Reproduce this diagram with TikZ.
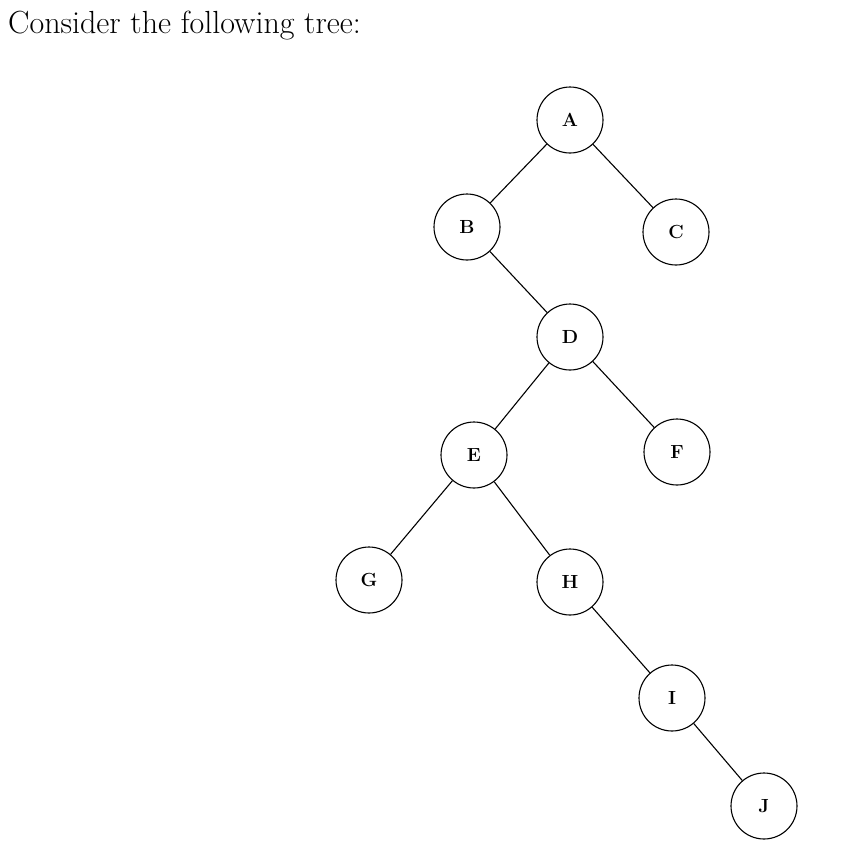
\documentclass[tikz,border=0pt]{standalone}
\begin{document}
\begin{tikzpicture}[x=1pt,y=-1pt,
  tn/.style={circle,draw,line width=1.1pt,minimum size=66pt,inner sep=0pt,font=\fontsize{19}{19}\selectfont\bfseries},
  ed/.style={line width=1.1pt}]
\useasboundingbox (0,0) rectangle (868,860);
\node[anchor=west,inner sep=0pt,font=\fontsize{32}{36}\selectfont] (t) at (8,26) {Consider the following tree:};
\node[tn] (A) at (570,120) {A};
\node[tn] (B) at (467,227) {B};
\node[tn] (C) at (676,232) {C};
\node[tn] (D) at (570,337) {D};
\node[tn] (E) at (474,455) {E};
\node[tn] (F) at (677,452) {F};
\node[tn] (G) at (369,580) {G};
\node[tn] (H) at (570,582) {H};
\node[tn] (I) at (672,698) {I};
\node[tn] (J) at (764,806) {J};
\draw[ed] (A)--(B) (A)--(C) (B)--(D) (D)--(E) (D)--(F) (E)--(G) (E)--(H) (H)--(I) (I)--(J);
\end{tikzpicture}
\end{document}
